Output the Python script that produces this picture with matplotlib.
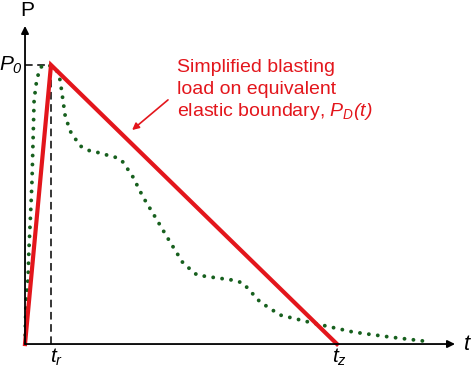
import matplotlib
matplotlib.use("Agg")
import matplotlib.pyplot as plt

plt.rcParams['font.family'] = ['Liberation Sans', 'DejaVu Sans']
plt.rcParams['mathtext.fontset'] = 'custom'
plt.rcParams['mathtext.rm'] = 'Liberation Sans:italic'
plt.rcParams['mathtext.it'] = 'Liberation Sans:italic'

# ---- data (schematic units) ----
t_r = 1.0      # rise time
t_z = 12.0     # zero time of simplified load
P0 = 1.0       # peak pressure

# simplified triangular load P_D(t)
simp_t = [0.0, t_r, t_z]
simp_p = [0.0, P0, 0.0]

# actual blasting load (green dotted)
blast_t = [0.0, 0.02, 0.04, 0.12, 0.15, 0.23, 0.27, 0.31, 0.35, 0.46, 0.62, 0.81,
           1.04, 1.23, 1.35, 1.42, 1.54, 1.73, 2.12, 2.50, 2.88, 3.27, 3.58, 3.77,
           4.15, 4.54, 5.08, 5.46, 6.08, 6.62, 7.38, 8.00, 8.38, 9.04, 9.81, 11.08,
           12.62, 14.04, 15.31]
blast_p = [0.0, 0.086, 0.147, 0.240, 0.337, 0.498, 0.588, 0.731, 0.875, 0.953, 0.993, 1.0,
           0.996, 0.978, 0.946, 0.900, 0.821, 0.764, 0.710, 0.692, 0.685, 0.674, 0.667, 0.652,
           0.599, 0.527, 0.444, 0.384, 0.290, 0.247, 0.237, 0.229, 0.219, 0.151, 0.104, 0.075,
           0.043, 0.025, 0.011]

RED = '#e3161c'
GREEN = '#17601e'

fig = plt.figure(figsize=(4.74, 3.75), dpi=100)
ax = fig.add_axes([0, 0, 1, 1])
ax.set_xlim(-0.962, 17.27)
ax.set_ylim(-0.111, 1.233)
ax.axis('off')

# axes with arrows
arrow_kw = dict(arrowstyle='-|>', lw=1.3, color='black', mutation_scale=11,
                shrinkA=0, shrinkB=0)
ax.annotate('', xy=(16.54, 0), xytext=(0, 0), arrowprops=arrow_kw)
ax.annotate('', xy=(0, 1.14), xytext=(0, 0), arrowprops=arrow_kw)

# dashed guide lines
ax.plot([t_r, t_r], [0, P0], color='black', lw=1.1, dashes=(5, 3))
ax.plot([0, t_r], [P0, P0], color='black', lw=1.1, dashes=(5, 3))

# actual blasting load
ax.plot(blast_t, blast_p, color=GREEN, lw=2.8, linestyle=(0, (0.01, 2.3)),
        dash_capstyle='round', solid_capstyle='round')

# simplified load
ax.plot(simp_t, simp_p, color=RED, lw=3.0, solid_joinstyle='miter')

# labels
fs = 14
ax.text(0.08, 1.197, 'P', fontsize=fs + 1, ha='center', va='center')
ax.text(-0.08, P0, r'$P_0$', fontsize=fs + 1, ha='right', va='center')
ax.text(t_r + 0.2, -0.01, r'$t_r$', fontsize=fs + 1, ha='center', va='top')
ax.text(t_z + 0.1, -0.01, r'$t_z$', fontsize=fs + 1, ha='center', va='top')
ax.text(17.0, 0.0, r'$t$', fontsize=fs + 2, ha='center', va='center')

ax.text(5.85, 0.975, 'Simplified blasting', color=RED, fontsize=fs, va='baseline')
ax.text(5.85, 0.896, 'load on equivalent', color=RED, fontsize=fs, va='baseline')
ax.text(5.85, 0.817, r'elastic boundary, $P_D(t)$', color=RED, fontsize=fs,
        va='baseline')

ax.annotate('', xy=(4.12, 0.767), xytext=(5.5, 0.875),
            arrowprops=dict(arrowstyle='-|>', lw=1.2, color=RED, mutation_scale=10,
                            shrinkA=0, shrinkB=0))

fig.savefig('out.png', dpi=100)
